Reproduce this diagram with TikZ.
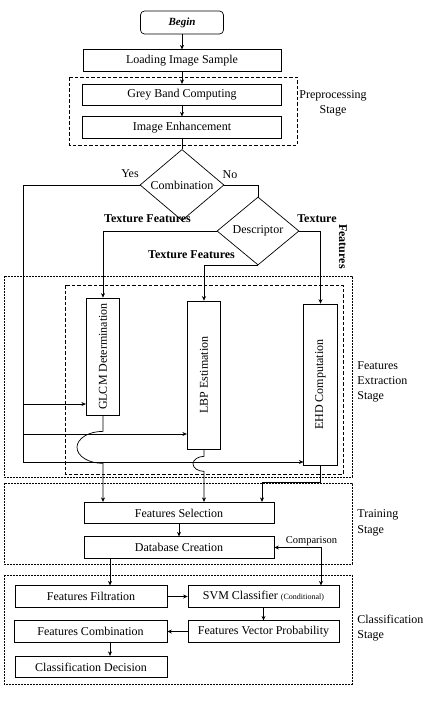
\documentclass[tikz,border=0pt]{standalone}
\usepackage{fontspec}
\setmainfont{Liberation Serif}
\usetikzlibrary{shapes.geometric,arrows.meta}

\begin{document}
\begin{tikzpicture}[x=1pt,y=-1pt,line width=0.7pt,
    every node/.style={font=\fontsize{12}{15}\selectfont,inner sep=0pt},
    box/.style={draw,minimum height=21.5pt},
    vbox/.style={draw,minimum width=33.5pt},
    decision/.style={draw,diamond,inner sep=0pt},
    lab/.style={font=\bfseries\fontsize{12}{14}\selectfont},
    stage/.style={align=left,anchor=west},
    conn/.style={-{Stealth[length=4.5pt,width=4pt]}},
    dotbox/.style={line width=0.6pt,dash pattern=on 2pt off 1pt},
    dashbox/.style={line width=0.6pt,dash pattern=on 3.5pt off 2pt}]
    \useasboundingbox (0,0) rectangle (427,705);
    % Preprocessing
    \node[box,rounded corners=4pt,minimum width=83pt,minimum height=23pt,font=\bfseries\itshape\fontsize{11}{13}\selectfont] (begin) at (182,22.5) {Begin};
    \node[box,minimum width=198pt] (load) at (182,60.5) {Loading Image Sample};
    \node[box,minimum width=199pt] (grey) at (182,95) {Grey Band Computing};
    \node[box,minimum width=199pt] (enh) at (182,127.5) {Image Enhancement};
    \draw[dashbox] (69,77) rectangle (297,145);
    \node[align=center,anchor=west] (prep) at (299,103.5) {Preprocessing\\Stage};
    \draw[conn] (begin) -- (load);
    \draw[conn] (load) -- (grey);
    \draw[conn] (grey) -- (enh);
    % Decisions
    \node[decision,minimum width=84pt,minimum height=66pt] (comb) at (182,185) {Combination};
    \node[decision,minimum width=82pt,minimum height=68pt] (desc) at (258,231) {Descriptor};
    \draw (enh) -- (comb);
    \draw (comb.east) -| (desc.north);
    \node (yes) at (130,174) {Yes};
    \node (no) at (230,175) {No};
    \node[lab] (tf1) at (147.5,219) {Texture Features};
    \node[lab] (tf2) at (317,219) {Texture};
    \node[lab,rotate=-90] (tf3) at (343,246.5) {Features};
    \node[lab] (tf4) at (191.5,254.5) {Texture Features};
    % Features extraction
    \draw[dotbox] (4,276) rectangle (352,477);
    \draw[dashbox] (65,285) rectangle (343,474);
    \node[vbox,minimum height=117pt] (glcm) at (103,356.5) {\rotatebox{90}{GLCM Determination}};
    \node[vbox,minimum height=148pt] (lbp) at (204,375) {\rotatebox{90}{LBP Estimation}};
    \node[vbox,minimum height=161pt] (ehd) at (320.5,384.5) {\rotatebox{90}{EHD Computation}};
    \node[stage] (fes) at (357,381.5) {Features\\Extraction\\Stage};
    \draw[conn] (desc.west) -| (glcm.north);
    \draw[conn] (desc.south) -| (lbp.north);
    \draw[conn] (desc.east) -| (ehd.north);
    \coordinate (y1) at (23,404);
    \coordinate (y2) at (23,434);
    \coordinate (y3) at (23,462);
    \draw (comb.west) -| (y3);
    \draw[conn] (y1) -- (y1 -| glcm.west);
    \draw[conn] (y2) -- (y2 -| lbp.west);
    \draw[conn] (y3) -- (y3 -| ehd.west);
    % Training
    \draw[dotbox] (4,483) rectangle (352,564);
    \node[box,minimum width=190pt] (fsel) at (179,513) {Features Selection};
    \node[box,minimum width=190pt] (dbc) at (179,547.5) {Database Creation};
    \node[stage] (trs) at (357,522.5) {Training\\[1pt]Stage};
    \coordinate (ej) at (262,482);
    \draw[conn] (glcm.south) -- ++(0,16) arc[start angle=270,end angle=90,x radius=26,y radius=16] -- (glcm.south |- fsel.north);
    \draw[conn] (lbp.south) -- ++(0,7) arc[start angle=270,end angle=90,x radius=11,y radius=7.5] -- (lbp.south |- fsel.north);
    \draw[conn] (ehd.south) |- (ej) -- (ej |- fsel.north);
    \draw[conn] (fsel) -- (dbc);
    % Classification
    \draw[dotbox] (4,575) rectangle (352,684);
    \node[box,minimum width=152pt] (ffilt) at (91,596.5) {Features Filtration};
    \node[box,minimum width=151pt] (svm) at (263.5,596.5) {SVM Classifier {\fontsize{8}{10}\selectfont(Conditional)}};
    \node[box,minimum width=153pt] (fcomb) at (90.5,631.5) {Features Combination};
    \node[box,minimum width=151pt] (fvp) at (263.5,631.5) {Features Vector Probability};
    \node[box,minimum width=152pt] (cdec) at (91,667) {Classification Decision};
    \node[stage] (cls) at (357,628) {Classification\\Stage};
    \coordinate (dx) at (110,0);
    \coordinate (rx) at (321,0);
    \draw[conn] (dbc.south -| dx) -- (ffilt.north -| dx);
    \draw[{Stealth[length=4.5pt,width=4pt]}-{Stealth[length=4.5pt,width=4pt]}] (dbc.east) -| (svm.north -| rx);
    \node[font=\fontsize{10.5}{12}\selectfont] (cmp) at (311.5,541) {Comparison};
    \draw[conn] (ffilt) -- (svm);
    \draw[conn] (svm) -- (fvp);
    \draw[conn] (fvp) -- (fcomb);
    \draw[conn] (fcomb.south -| dx) -- (cdec.north -| dx);
\end{tikzpicture}
\end{document}
